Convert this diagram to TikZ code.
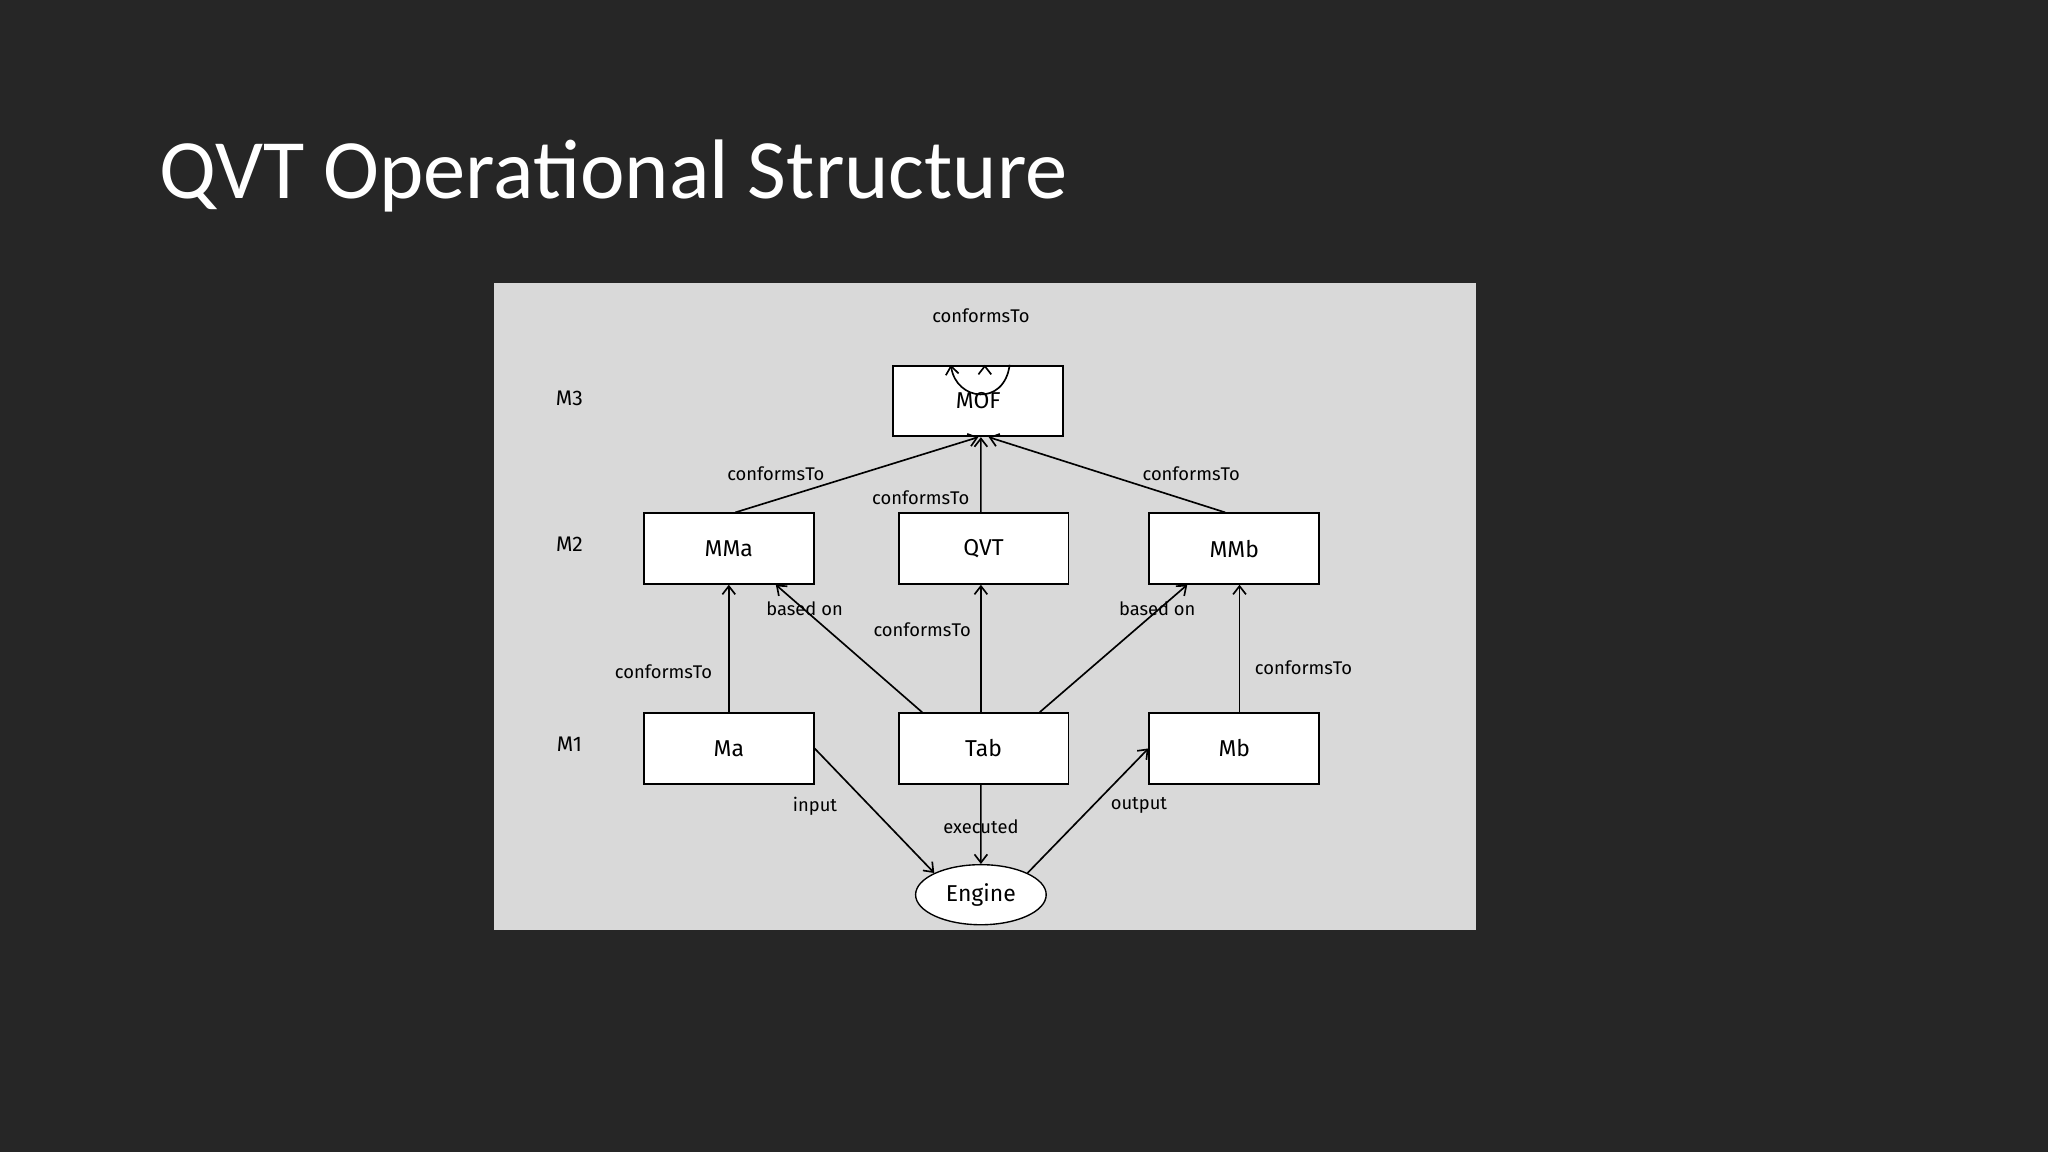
\documentclass[tikz,border=0pt]{standalone}
\usepackage{fontspec}
\setmainfont{Fira Sans}
\newfontfamily\titlefont{Carlito}
\usetikzlibrary{shapes.geometric,arrows.meta}
\definecolor{bgc}{HTML}{262626}
\definecolor{panel}{HTML}{D9D9D9}
\begin{document}
\begin{tikzpicture}[x=0.05cm,y=-0.05cm,
  box/.style={draw=black,line width=2pt,fill=white,minimum width=6.5cm,minimum height=2.7cm,font=\fontsize{25}{30}\selectfont},
  lvl/.style={font=\fontsize{23}{28}\selectfont},
  lab/.style={font=\fontsize{20}{24}\selectfont,fill=none},
  arr/.style={line width=1.8pt,-{Straight Barb[length=9pt,width=14pt,line width=1.8pt]}}]
\fill[bgc] (0,0) rectangle (1568,882);
\useasboundingbox (0,0) rectangle (1568,882);
\fill[panel] (378,217) rectangle (1130,712);
\node[anchor=base west,text=white,inner sep=0,font=\titlefont\fontsize{92}{100}\selectfont] (title) at (122,152) {QVT Operational Structure};
\node[lvl] (m3) at (436,305) {M3};
\node[lvl] (m2) at (436,417) {M2};
\node[lvl] (m1) at (436,570) {M1};
\node[box] (MOF) at (749,307) {MOF};
\node[box] (MMa) at (558,420) {MMa};
\node[box] (QVT) at (753,420) {QVT};
\node[box] (MMb) at (945,420) {MMb};
\node[box] (Ma) at (558,573) {Ma};
\node[box] (Tab) at (753,573) {Tab};
\node[box] (Mb) at (945,573) {Mb};
\node[ellipse,draw=black,line width=1.5pt,fill=white,minimum width=5cm,minimum height=2.3cm,inner sep=0,font=\fontsize{25}{30}\selectfont] (Eng) at (751,685) {Engine};
% arrows
\draw[arr] ([xshift=2.5mm]MOF.north east-|MOF.north) ++(0,0) coordinate (lpS);
\draw[arr] ([xshift=12mm]MOF.north) .. controls +(-2mm,-16mm) and +(2mm,-14mm) .. ([xshift=-10.5mm]MOF.north);
\draw[arr] ([xshift=2.5mm]MMa.north) -- (MOF.south);
\draw[arr] ([xshift=-1mm]QVT.north) -- ([xshift=1mm]MOF.south);
\draw[arr] ([xshift=-3.5mm]MMb.north) -- ([xshift=4mm]MOF.south);
\draw[arr] (Ma.north) -- (MMa.north|-MMa.south);
\draw[arr] ([xshift=-23.5mm]Tab.north) -- ([xshift=18mm]MMa.south);
\draw[arr] ([xshift=-1mm]Tab.north) -- ([xshift=-1mm]QVT.south);
\draw[arr] ([xshift=21.5mm]Tab.north) -- ([xshift=-18mm]MMb.south);
\draw[arr] ([xshift=2mm]Mb.north) -- ([xshift=2mm]MMb.south);
\draw[arr] (Ma.east) -- (Eng.north west);
\draw[arr] ([xshift=-1mm]Tab.south) -- (Eng.north);
\draw[arr] (Eng.north east) -- (Mb.west);
% labels
\node[lab] (l0) at (751,242) {conformsTo};
\node[lab] (l1) at (594,363) {conformsTo};
\node[lab] (l2) at (705,381) {conformsTo};
\node[lab] (l3) at (912,363) {conformsTo};
\node[lab] (l4) at (508,514) {conformsTo};
\node[lab] (l5) at (616,466) {based on};
\node[lab] (l6) at (706,482) {conformsTo};
\node[lab] (l7) at (886,466) {based on};
\node[lab] (l8) at (998,511) {conformsTo};
\node[lab] (l9) at (624,617) {input};
\node[lab] (l10) at (751,633) {executed};
\node[lab] (l11) at (872,617) {output};
\end{tikzpicture}
\end{document}
